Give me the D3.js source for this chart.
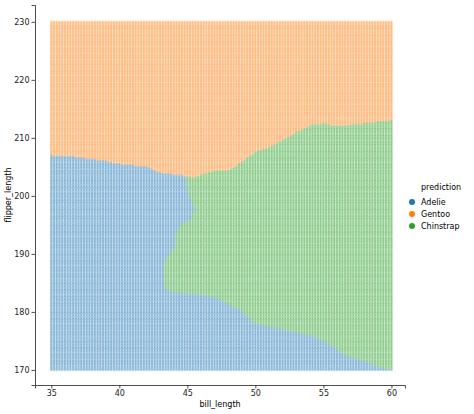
<!DOCTYPE html>
<html><head><meta charset="utf-8">
<script src="https://cdn.jsdelivr.net/npm/d3@7"></script>
<style>body{margin:0;background:#fff;font-family:"DejaVu Sans",sans-serif;}</style>
</head><body><div id="chart"></div>
<script>
const classes = ["Adelie", "Gentoo", "Chinstrap"];
const colors = ["#1f77b4", "#ff7f0e", "#2ca02c"];
// grid axes of the prediction mesh
const billGrid = d3.range(35, 60.001, 0.2);
const flipperGrid = d3.range(170, 230.001, 0.25);
// boundary readings: orange above this flipper value, by bill length
const topBill = [35, 37, 39, 40, 42, 43, 45, 45.5, 46.5, 47, 48, 49, 50, 51, 52, 53, 54, 55, 56, 58, 60];
const topFlip = [207, 206.7, 206, 205.5, 205, 204, 203.4, 203.2, 204, 204.4, 204.3, 205.8, 207.6, 208.4, 209.6, 211, 212.2, 212.5, 212, 212.5, 213];
// green region lower edge, by bill length
const lowBill = [43, 44, 46, 47, 48, 49, 50, 52, 54, 55, 56, 57, 58, 59, 60];
const lowFlip = [184, 183.4, 183, 182.5, 181.5, 180, 178, 177, 176, 175, 173.5, 172.2, 171.5, 170.6, 170];
// green region left edge, by flipper length
const leftFlip = [183, 185.5, 187, 189, 191, 193, 194.7, 196, 197.6, 199, 201, 202.5, 204];
const leftBill = [43.6, 43.2, 43.3, 43.4, 44, 44.1, 44.4, 45.2, 45.5, 45.3, 45, 44.8, 45];

function interp(xs, ys, v) {
  if (v <= xs[0]) return ys[0];
  if (v >= xs[xs.length - 1]) return ys[ys.length - 1];
  return d3.scaleLinear().domain(xs).range(ys)(v);
}
function predict(b, f) {
  if (f > interp(topBill, topFlip, b)) return 1;
  if (f > interp(lowBill, lowFlip, b) && b > interp(leftFlip, leftBill, f) && b >= 43) return 2;
  return 0;
}
const points = [];
billGrid.forEach(b => flipperGrid.forEach(f => points.push({b, f, c: predict(b, f)})));

const width = 474, height = 414;
const svg = d3.select("#chart").append("svg").attr("width", width).attr("height", height);
const x = d3.scaleLinear().domain([33.8, 61]).range([35, 405]);
const y = d3.scaleLinear().domain([167.4, 232.9]).range([385, 5]);

svg.append("g").selectAll("circle").data(points).enter().append("circle")
  .attr("cx", d => x(d.b)).attr("cy", d => y(d.f)).attr("r", 1.3)
  .attr("fill", d => colors[d.c]).attr("fill-opacity", 0.35);

const xa = svg.append("g").attr("transform", "translate(0,385)")
  .call(d3.axisBottom(x).tickValues(d3.range(35, 61, 5)).tickSize(3.5).tickPadding(2));
const ya = svg.append("g").attr("transform", "translate(35,0)")
  .call(d3.axisLeft(y).tickValues(d3.range(170, 231, 10)).tickSize(3.5).tickPadding(2));
[xa, ya].forEach(a => {
  a.selectAll("text").style("font-size", "8px").style("font-family", "DejaVu Sans").attr("fill", "#222");
  a.select(".domain").attr("stroke", "#222").attr("stroke-width", 0.8);
  a.selectAll(".tick line").attr("stroke", "#222").attr("stroke-width", 0.8);
});
svg.append("text").attr("x", 220).attr("y", 407).attr("text-anchor", "middle")
  .style("font-size", "8px").text("bill_length");
svg.append("text").attr("transform", "translate(11,195) rotate(-90)").attr("text-anchor", "middle")
  .style("font-size", "8px").text("flipper_length");

const lg = svg.append("g").attr("transform", "translate(408,190)");
lg.append("text").attr("x", 13).attr("y", 0).style("font-size", "8px").text("prediction");
classes.forEach((c, i) => {
  lg.append("circle").attr("cx", 4).attr("cy", 12 + i * 12).attr("r", 3).attr("fill", colors[i]);
  lg.append("text").attr("x", 13).attr("y", 15 + i * 12).style("font-size", "8px").text(c);
});
</script></body></html>
